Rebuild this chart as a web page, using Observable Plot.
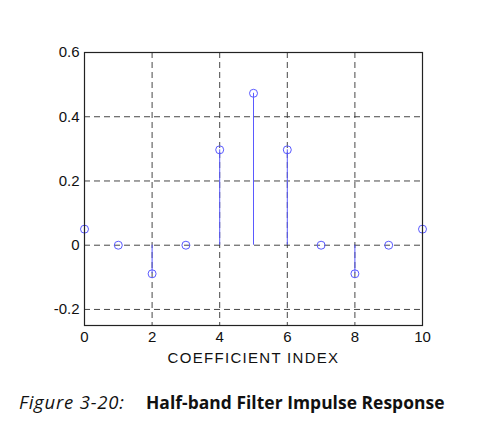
<!DOCTYPE html>
<html>
<head>
<meta charset="utf-8">
<script src="https://cdn.jsdelivr.net/npm/d3@7"></script>
<script src="https://cdn.jsdelivr.net/npm/@observablehq/plot@0.6"></script>
<style>
  body { margin: 0; background: #fff; }
  #caption { position: relative; height: 52px; font-family: "Open Sans", "Noto Sans", sans-serif; font-size: 17.4px; color: #111; }
  #caption .num { position: absolute; left: 19px; top: 20px; font-style: italic; font-size: 18.5px; top: 19px; letter-spacing: 0.8px; }
  #caption .title { position: absolute; left: 146px; top: 20px; font-weight: bold; letter-spacing: 0.05px; }
</style>
</head>
<body>
<div id="chart"></div>
<div id="caption"><span class="num">Figure 3-20:</span><span class="title">Half-band Filter Impulse Response</span></div>
<script>
const indices = [0, 1, 2, 3, 4, 5, 6, 7, 8, 9, 10];
const coefficients = [0.05, 0, -0.089, 0, 0.297, 0.473, 0.297, 0, -0.089, 0, 0.05];
const xTicks = [0, 2, 4, 6, 8, 10];
const yTicks = [-0.2, 0, 0.2, 0.4, 0.6];
const xGrid = [2, 4, 6, 8];
const yGrid = [-0.2, 0, 0.2, 0.4];

const data = indices.map((i, k) => ({i, v: coefficients[k]}));
const blue = "#5a5aff";

const chart = Plot.plot({
  width: 483,
  height: 370,
  marginTop: 52,
  marginBottom: 45,
  marginLeft: 84,
  marginRight: 61,
  style: {fontFamily: "'Liberation Sans', Arial, sans-serif", fontSize: "15px", color: "#111"},
  x: {domain: [0, 10]},
  y: {domain: [-0.25, 0.6]},
  marks: [
    Plot.gridX(xGrid, {stroke: "#333", strokeOpacity: 0.9, strokeDasharray: "6,4"}),
    Plot.gridY(yGrid, {stroke: "#333", strokeOpacity: 0.9, strokeDasharray: "6,4"}),
    Plot.ruleX(data, {x: "i", y1: 0, y2: "v", stroke: blue, strokeWidth: 1}),
    Plot.dot(data, {x: "i", y: "v", r: 4, stroke: blue, fill: "none", strokeWidth: 1}),
    Plot.frame({stroke: "#222", strokeWidth: 1.2}),
    Plot.axisX({ticks: xTicks, tickSize: 0, tickPadding: 6, fontSize: 15, tickFormat: d => String(d), label: "COEFFICIENT INDEX", labelAnchor: "center", labelArrow: "none", labelOffset: 37}),
    Plot.axisY({ticks: yTicks, tickSize: 0, tickPadding: 5, fontSize: 15, label: null, tickFormat: d => String(d)})
  ]
});
d3.select(chart).selectAll('g[aria-label="x-axis label"] text').style("letter-spacing", "1.3px");
document.getElementById("chart").appendChild(chart);
</script>
</body>
</html>
